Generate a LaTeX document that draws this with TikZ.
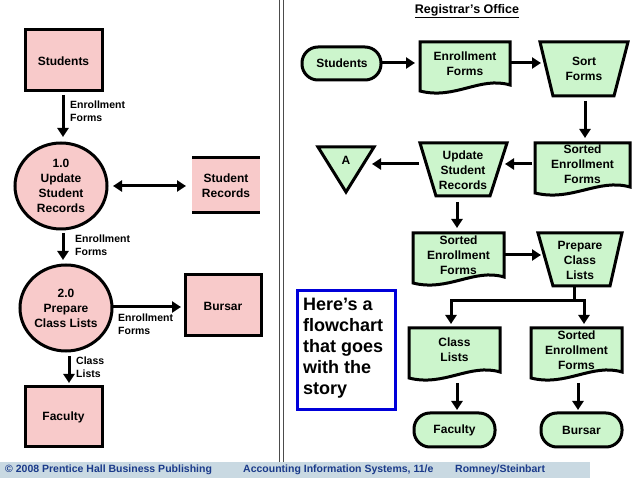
\documentclass[tikz,border=0pt]{standalone}
\usepackage{fontspec}
\setmainfont{Liberation Sans}
\usetikzlibrary{arrows.meta}
\definecolor{pinkf}{HTML}{F8CACA}
\definecolor{greenf}{HTML}{CCF5CC}
\definecolor{footbg}{HTML}{C9D9E2}
\definecolor{foottx}{HTML}{1A3A8A}
\begin{document}
\begin{tikzpicture}[x=1pt,y=-1pt,
  lbl/.style={font=\bfseries\fontsize{12}{15}\selectfont,align=center,inner sep=0pt},
  sml/.style={font=\bfseries\fontsize{10.5}{13}\selectfont,align=left,inner sep=0pt,anchor=west},
  shp/.style={line width=3pt,line join=miter},
  pk/.style={shp,fill=pinkf},
  gr/.style={shp,fill=greenf},
  arr/.style={line width=3pt,-{Triangle[length=9pt,width=11pt]}},
  foot/.style={font=\bfseries\fontsize{10.5}{12}\selectfont,text=foottx,anchor=west,inner sep=0pt}]
\useasboundingbox (0,0) rectangle (638,478);
\fill[white] (0,0) rectangle (638,478);
% footer and divider
\fill[footbg] (0,462) rectangle (590,478);
\node[foot] (f1) at (5,470) {© 2008 Prentice Hall Business Publishing};
\node[foot] (f2) at (243,470) {Accounting Information Systems, 11/e};
\node[foot] (f3) at (455,470) {Romney/Steinbart};
\draw[line width=1.5pt,black!70] (279.5,0) -- (279.5,462);
\draw[line width=1.5pt,black!70] (283.5,0) -- (283.5,462);
% ---------- left DFD
\draw[pk] (25,30) rectangle (102,91);
\node[lbl] (ls) at (63.5,61) {Students};
\draw[pk] (61,186) ellipse [x radius=46,y radius=43];
\node[lbl] (p1) at (61,186) {1.0\\Update\\Student\\Records};
\fill[pinkf] (192,158) rectangle (260,213);
\draw[shp] (192,158) -- (260,158) (192,213) -- (260,213);
\node[lbl] (sr) at (226,186) {Student\\Records};
\draw[pk] (66,308) ellipse [x radius=46,y radius=43];
\node[lbl] (p2) at (66,308) {2.0\\Prepare\\Class Lists};
\draw[pk] (185,275) rectangle (261,336);
\node[lbl] (lb) at (223,306) {Bursar};
\draw[pk] (25,387) rectangle (102,447);
\node[lbl] (lf) at (63.5,417) {Faculty};
\coordinate (a1s) at (63,95); \coordinate (a1e) at (63,137);
\draw[arr] (a1s) -- (a1e);
\node[sml] (t1) at (70,111) {Enrollment\\Forms};
\coordinate (dbl1) at (113,186); \coordinate (dbl2) at (186,186);
\draw[line width=3pt,{Triangle[length=9pt,width=11pt]}-{Triangle[length=9pt,width=11pt]}] (dbl1) -- (dbl2);
\coordinate (a2s) at (63,233); \coordinate (a2e) at (63,260);
\draw[arr] (a2s) -- (a2e);
\node[sml] (t2) at (75,245) {Enrollment\\Forms};
\coordinate (a3s) at (112,307); \coordinate (a3e) at (181,307);
\draw[arr] (a3s) -- (a3e);
\node[sml] (t3) at (118,324) {Enrollment\\Forms};
\coordinate (a4s) at (69,356); \coordinate (a4e) at (69,383);
\draw[arr] (a4s) -- (a4e);
\node[sml] (t4) at (76,367) {Class\\Lists};
% ---------- right flowchart
\node[font=\bfseries\fontsize{12.5}{14}\selectfont,inner sep=0pt] (title) at (467,11) {\underline{Registrar’s Office}};
% terminals
\draw[gr,rounded corners=16pt] (302,47) rectangle (381,80);
\node[lbl] (rs) at (342,63.5) {Students};
\draw[gr,rounded corners=16pt] (414,413) rectangle (495,447);
\node[lbl] (rf) at (454.5,430) {Faculty};
\draw[gr,rounded corners=16pt] (541,413) rectangle (622,447);
\node[lbl] (rb) at (581.5,430) {Bursar};
% documents
\draw[gr] (420,42) -- (510,42) -- (510,85) .. controls (480,76) and (455,100) .. (420,91) -- cycle;
\node[lbl] (d1) at (465,64) {Enrollment\\Forms};
\draw[gr] (535,143) -- (630,143) -- (630,187) .. controls (598,178) and (572,202) .. (535,193) -- cycle;
\node[lbl] (d2) at (582.5,164) {Sorted\\Enrollment\\Forms};
\draw[gr] (413,233) -- (504,233) -- (504,277) .. controls (474,268) and (448,292) .. (413,283) -- cycle;
\node[lbl] (d3) at (458.5,255) {Sorted\\Enrollment\\Forms};
\draw[gr] (409,328) -- (500,328) -- (500,372) .. controls (470,363) and (444,387) .. (409,378) -- cycle;
\node[lbl] (d4) at (454.5,350) {Class\\Lists};
\draw[gr] (531,328) -- (622,328) -- (622,372) .. controls (592,363) and (566,387) .. (531,378) -- cycle;
\node[lbl] (d5) at (576.5,350) {Sorted\\Enrollment\\Forms};
% manual ops
\draw[gr] (540,42) -- (628,42) -- (614,96) -- (553,96) -- cycle;
\node[lbl] (m1) at (584,69) {Sort\\Forms};
\draw[gr] (420,143) -- (507,143) -- (490,196) -- (436,196) -- cycle;
\node[lbl] (m2) at (463,170) {Update\\Student\\Records};
\draw[gr] (538,233) -- (622,233) -- (610,286) -- (553,286) -- cycle;
\node[lbl] (m3) at (580,260) {Prepare\\Class\\Lists};
% off-page
\draw[gr] (318,147) -- (374,147) -- (346,192) -- cycle;
\node[lbl] (A) at (346,160) {A};
% arrows
\coordinate (b1s) at (382,63); \coordinate (b1e) at (415,63);
\draw[arr] (b1s) -- (b1e);
\coordinate (b2s) at (510,63); \coordinate (b2e) at (541,63);
\draw[arr] (b2s) -- (b2e);
\coordinate (b3s) at (585,101); \coordinate (b3e) at (585,138);
\draw[arr] (b3s) -- (b3e);
\coordinate (b4s) at (532,164); \coordinate (b4e) at (505,164);
\draw[arr] (b4s) -- (b4e);
\coordinate (b5s) at (419,164); \coordinate (b5e) at (372,164);
\draw[arr] (b5s) -- (b5e);
\coordinate (b6s) at (457,202); \coordinate (b6e) at (457,228);
\draw[arr] (b6s) -- (b6e);
\coordinate (b7s) at (504,255); \coordinate (b7e) at (541,255);
\draw[arr] (b7s) -- (b7e);
\coordinate (br0) at (574,286); \coordinate (br1) at (574,301);
\coordinate (brl) at (451,301); \coordinate (brr) at (584,301);
\draw[line width=3pt] (br0) -- (br1);
\draw[line width=3pt,line cap=rect] (brl) -- (brr);
\coordinate (brle) at (451,324); \coordinate (brre) at (584,324);
\draw[arr] (brl) -- (brle);
\draw[arr] (brr) -- (brre);
\coordinate (b8s) at (457,383); \coordinate (b8e) at (457,410);
\draw[arr] (b8s) -- (b8e);
\coordinate (b9s) at (578,383); \coordinate (b9e) at (578,410);
\draw[arr] (b9s) -- (b9e);
% blue note
\draw[line width=3pt,blue!85!black] (297,291) rectangle (395,410);
\node[font=\bfseries\fontsize{18}{21}\selectfont,align=left,anchor=north west,inner sep=0pt] (note) at (303,298) {Here’s a\\flowchart\\that goes\\with the\\story};
\end{tikzpicture}
\end{document}
